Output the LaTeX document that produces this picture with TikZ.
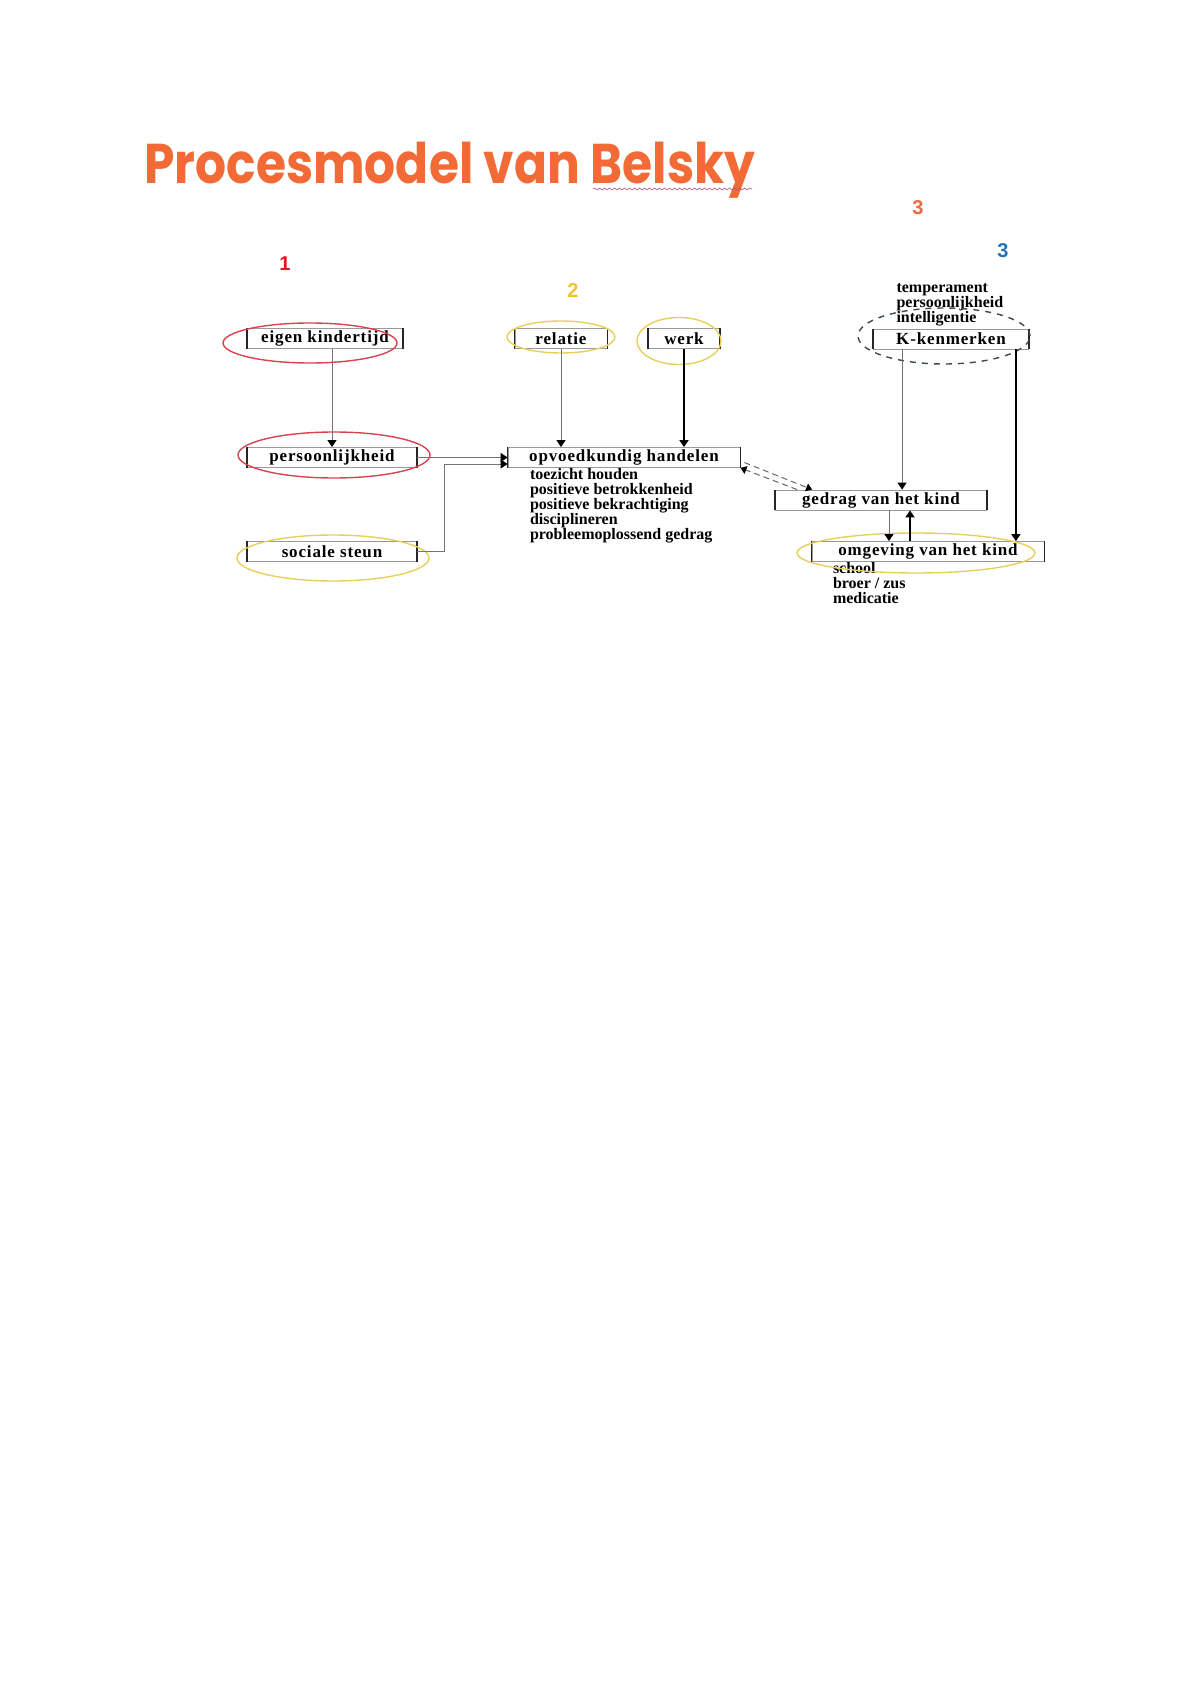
\documentclass[tikz,border=0pt]{standalone}
\usepackage{fontspec}
\setmainfont{Liberation Serif}
\newfontfamily\titlefont{Poppins}
\newfontfamily\numfont{Liberation Sans}
\newfontfamily\boxfont[LetterSpace=5]{Liberation Serif}
\usetikzlibrary{arrows.meta,positioning,decorations.pathmorphing}

\definecolor{belskyorange}{HTML}{F26A35}
\definecolor{spellred}{HTML}{B0507A}
\definecolor{ellred}{HTML}{D9434E}
\definecolor{ellyellow}{HTML}{E6CF5A}
\definecolor{kdash}{HTML}{3A4A55}
\definecolor{numred}{HTML}{E3141B}
\definecolor{numyellow}{HTML}{F2C12E}
\definecolor{numorange}{HTML}{E96A3C}
\definecolor{numblue}{HTML}{2273B5}

\begin{document}
\begin{tikzpicture}[
  x=0.5pt,y=-0.5pt,
  box/.style={
    draw=black!40,
    line width=0.4pt,
    minimum height=10pt,
    inner sep=0pt,
    font=\boxfont\bfseries\fontsize{8.5}{9}\selectfont
  },
  side/.style={
    draw=black!85,
    line width=0.8pt
  },
  info/.style={
    inner sep=0pt,
    align=left,
    font=\bfseries\fontsize{8}{7.5}\selectfont
  },
  ring/.style={
    draw=#1,
    line width=0.7pt
  },
  arr/.style={
    -{Triangle[length=3.5pt,width=4.5pt,color=black]},
    draw=black!55,
    line width=0.5pt
  },
  heavy arr/.style={
    arr,
    draw=black,
    line width=1pt
  },
  link/.style={
    densely dashed,
    draw=black!60,
    line width=0.5pt,
    -{Triangle[length=3pt,width=4pt,color=black]}
  },
  num/.style={
    font=\numfont\bfseries\fontsize{10}{12}\selectfont,
    inner sep=0pt
  }
]
\useasboundingbox (0,0) rectangle (1200,1696);

% title
\node[anchor=base west,inner sep=0pt,text=belskyorange,
      font=\titlefont\bfseries\fontsize{28}{30}\selectfont] (title) at (144,184)
  {\scalebox{0.87}[1]{Procesmodel van Belsky}};
\draw[decorate,decoration={snake,amplitude=0.5pt,segment length=2.5pt},
      draw=spellred,line width=0.3pt] (593,189) -- (752,189);

% group numbers
\node[num,text=numred] (num-one) at (285,264) {1};
\node[num,text=numyellow] (num-two) at (573,291) {2};
\node[num,text=numorange] (num-three-a) at (918,208) {3};
\node[num,text=numblue] (num-three-b) at (1003,251) {3};

% boxes
\node[box,minimum width=77.5pt] (eigen) at (325,338.5) {eigen kindertijd};
\node[box,minimum width=84.5pt] (pers) at (332,457.5) {persoonlijkheid};
\node[box,minimum width=84.5pt] (sociale) at (332,551.5) {sociale steun};
\node[box,minimum width=46pt] (relatie) at (561,338.5) {relatie};
\node[box,minimum width=35.5pt] (werk) at (684,338.5) {werk};
\node[box,minimum width=116pt] (opv) at (624,457.5) {opvoedkundig handelen};
\node[box,minimum width=105.5pt] (gedrag) at (881,500) {gedrag van het kind};
\node[box,minimum width=116pt] (omgeving) at (928,551.5) {omgeving van het kind};
\node[box,minimum width=77.5pt] (kkenm) at (951,339) {K-kenmerken};

\foreach \b in {eigen,pers,sociale,relatie,werk,opv,gedrag,omgeving,kkenm}
  \draw[side] (\b.north west) -- (\b.south west)
              (\b.north east) -- (\b.south east);

% lists
\node[info,anchor=north west] (opv-info) at ([xshift=11pt]opv.south west)
  {toezicht houden\\positieve betrokkenheid\\positieve bekrachtiging\\
   disciplineren\\probleemoplossend gedrag};
\node[info,anchor=north west] (omg-info) at ([xshift=10.5pt]omgeving.south west)
  {school\\broer / zus\\medicatie};
\node[info,anchor=south west] (k-info) at ([xshift=11.5pt,yshift=1pt]kkenm.north west)
  {temperament\\persoonlijkheid\\intelligentie};

% rings
\draw[ring=ellred] (310,343) ellipse [x radius=43.5pt,y radius=10pt];
\draw[ring=ellred] (334,455) ellipse [x radius=48pt,y radius=11.5pt];
\draw[ring=ellyellow] (333,558) ellipse [x radius=48pt,y radius=11.5pt];
\draw[ring=ellyellow] (561,337) ellipse [x radius=27pt,y radius=8pt];
\draw[ring=ellyellow] (679,341) ellipse [x radius=21pt,y radius=11.75pt];
\draw[ring=ellyellow] (916,553) ellipse [x radius=59.5pt,y radius=10pt];
\draw[ring=kdash,dashed] (944,336) ellipse [x radius=43pt,y radius=14pt];

% arrows
\draw[arr] (eigen.south -| pers.north) -- (pers.north);
\draw[arr] (relatie.south) -- (relatie |- opv.north);
\draw[heavy arr] (werk.south) -- (werk |- opv.north);
\draw[arr] (pers.east) -- (opv.west);
\draw[arr] (sociale.east) -- ++(28,0) |- ([yshift=-3.25pt]opv.west);
\draw[arr] ([xshift=14.5pt]kkenm.south west) -- ([xshift=14.5pt]kkenm.south west |- gedrag.north);
\draw[heavy arr] ([xshift=-6.5pt]kkenm.south east) -- ([xshift=-6.5pt]kkenm.south east |- omgeving.north);
\draw[arr] ([xshift=4pt]gedrag.south) -- ([xshift=4pt]gedrag.south |- omgeving.north);
\draw[heavy arr] ([xshift=14.5pt]gedrag.south |- omgeving.north) -- ([xshift=14.5pt]gedrag.south);
\draw[link] ([xshift=2pt,yshift=-2.5pt]opv.east) -- ([xshift=18.5pt]gedrag.north west);
\draw[link] ([xshift=11pt]gedrag.north west) -- (opv.south east);

\end{tikzpicture}
\end{document}
